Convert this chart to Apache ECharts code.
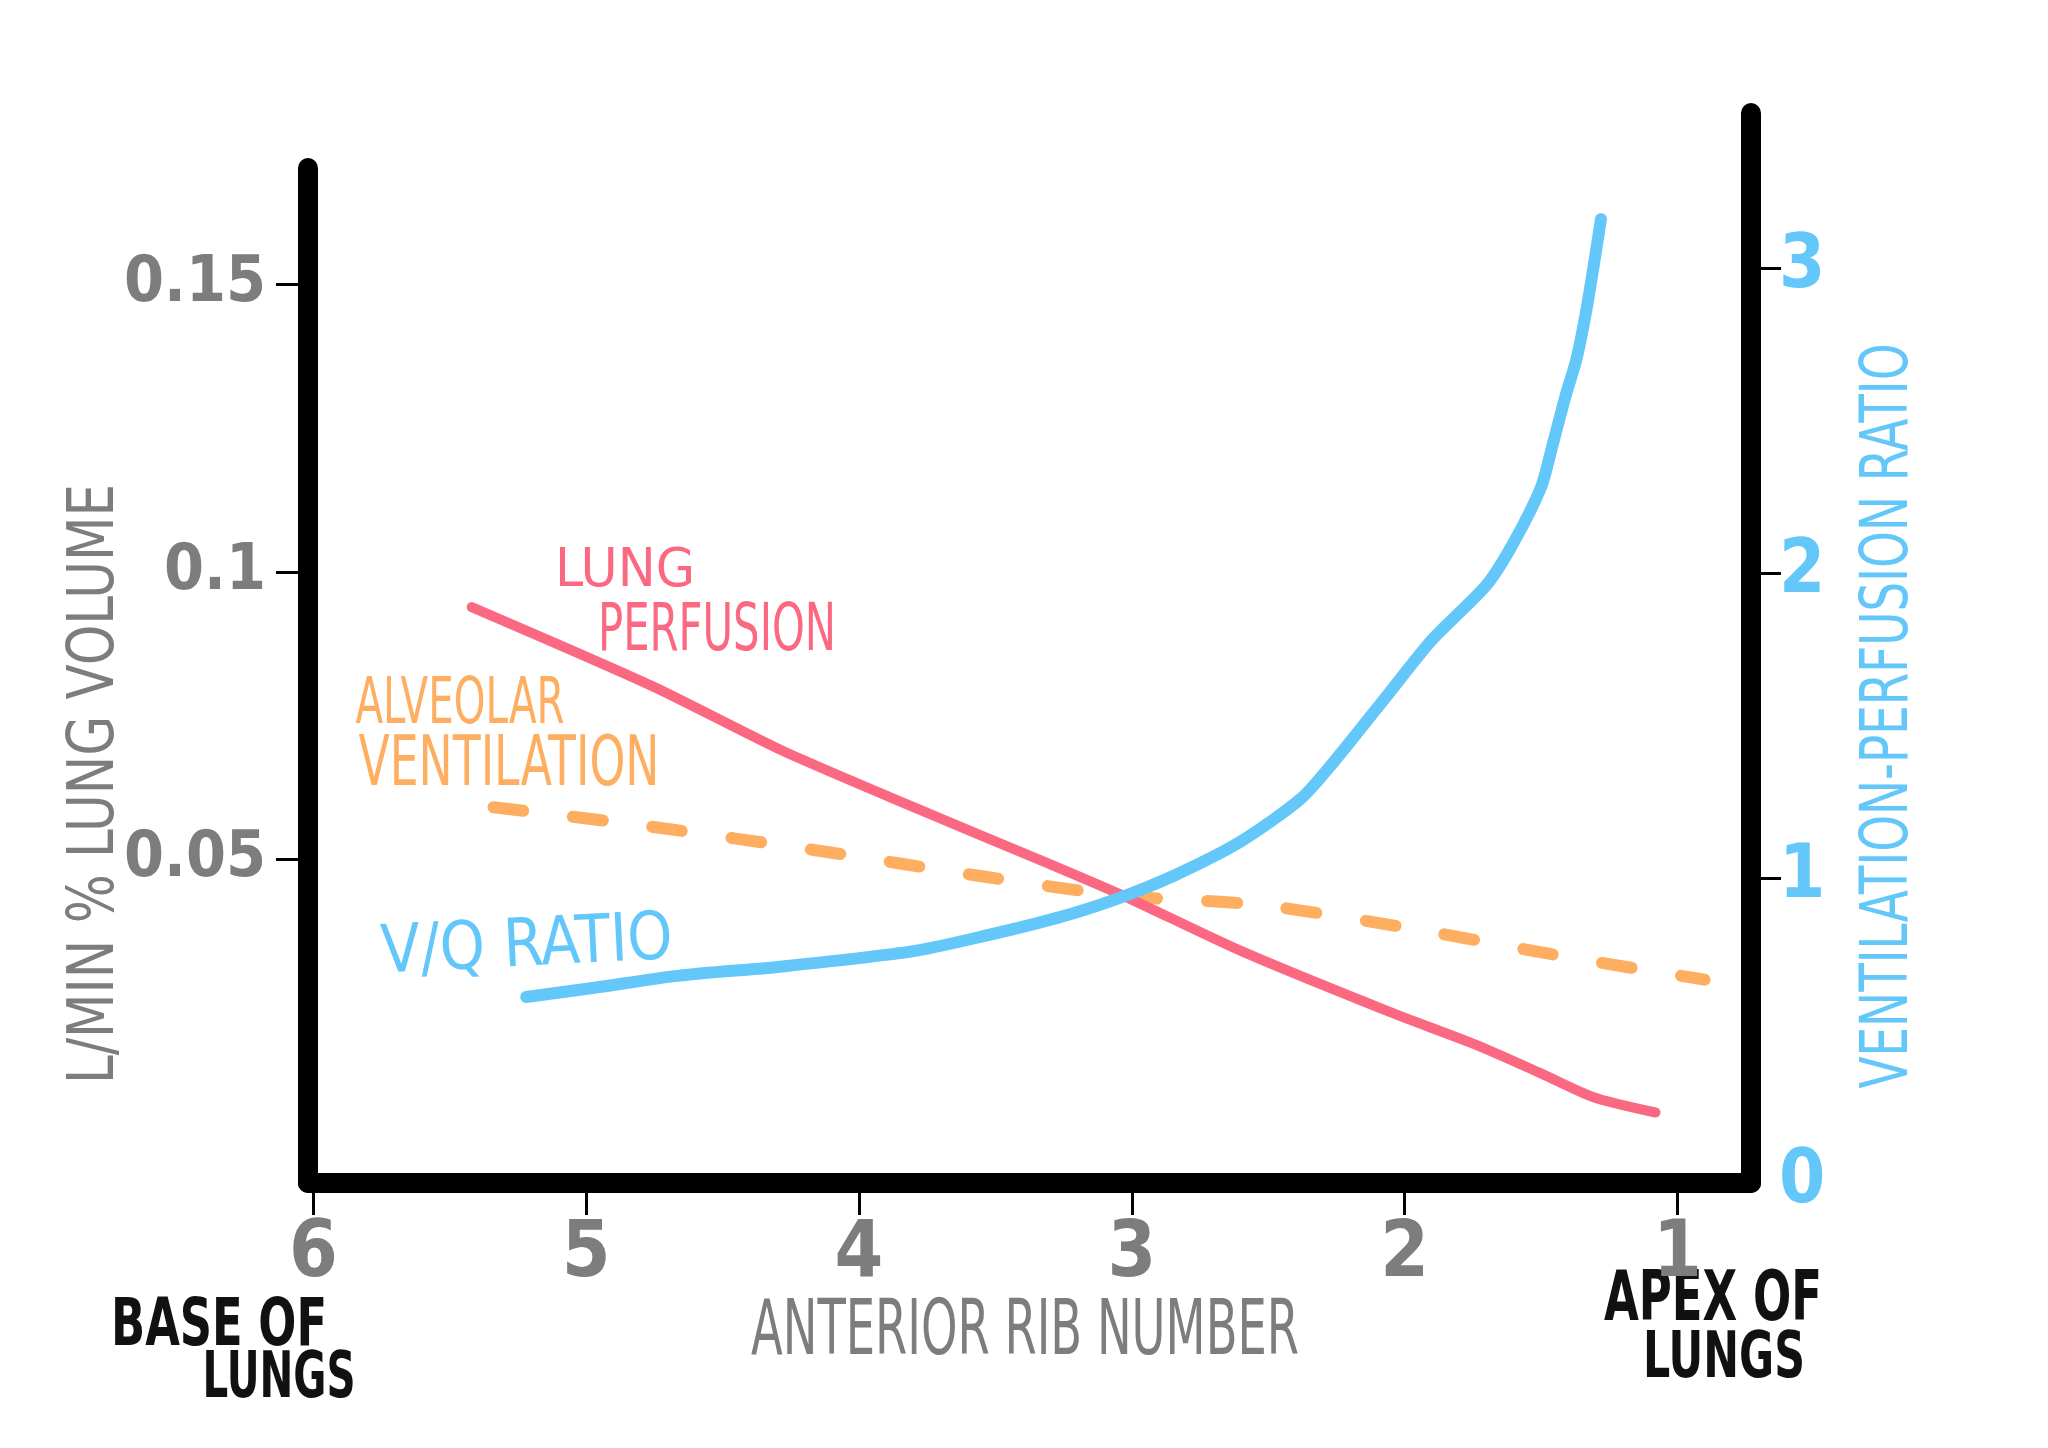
<!DOCTYPE html>
<html><head><meta charset="utf-8">
<script src="https://cdn.jsdelivr.net/npm/echarts/dist/echarts.min.js"></script>
<style>html,body{margin:0;padding:0;background:#fff}#c{width:2048px;height:1448px}</style>
</head><body><div id="c"></div>
<script>
// ---- data ----
const ribTicks = [1, 2, 3, 4, 5, 6];
const flowTicks = [0.05, 0.1, 0.15];
const ratioTicks = [0, 1, 2, 3];

const perfusionRib = [5.42, 4.76, 4.28, 3.80, 3.32, 3.04, 2.60, 2.05, 1.74, 1.50, 1.31, 1.08];
const perfusionVal = [0.0939, 0.0802, 0.0689, 0.0591, 0.0496, 0.0439, 0.0341, 0.0234, 0.0178, 0.0128, 0.0087, 0.0060];

const ventilationRib = [5.34, 4.76, 4.13, 3.58, 3.04, 2.53, 1.95, 1.40, 0.90];
const ventilationVal = [0.0591, 0.0557, 0.0514, 0.0473, 0.0437, 0.0421, 0.0378, 0.0330, 0.0291];

const vqRib = [5.22, 4.97, 4.66, 4.28, 3.80, 3.54, 3.27, 3.06, 2.84, 2.60, 2.38, 2.26, 2.08, 1.90, 1.70, 1.60, 1.50, 1.46, 1.41, 1.37, 1.33, 1.28];
const vqVal = [0.61, 0.64, 0.68, 0.71, 0.76, 0.81, 0.87, 0.93, 1.01, 1.12, 1.26, 1.38, 1.58, 1.78, 1.96, 2.10, 2.28, 2.41, 2.58, 2.70, 2.88, 3.16];

// ---- styling ----
const FONT = "'DejaVu Sans Condensed', 'DejaVu Sans', sans-serif";
const GRAY = '#7d7d7d';
const PINK = '#fb6881';
const ORANGE = '#fdae60';
const BLUE = '#63c7fa';
const zip = (a, b) => a.map((v, i) => [v, b[i]]);

const mctx = document.createElement('canvas').getContext('2d');
function fitText(text, cx, cy, w, h, color, weight, rot) {
  const fs = 40;
  mctx.font = weight + ' ' + fs + 'px ' + FONT;
  const m = mctx.measureText(text);
  const capH = mctx.measureText('H').actualBoundingBoxAscent || fs * 0.73;
  return {
    type: 'text', x: cx, y: cy, rotation: rot || 0,
    scaleX: w / m.width, scaleY: h / capH,
    style: {
      text: text, x: 0, y: 0, fill: color,
      font: weight + ' ' + fs + 'px ' + FONT,
      textAlign: 'center', textVerticalAlign: 'middle'
    }
  };
}

const chart = echarts.init(document.getElementById('c'), null, { renderer: 'canvas' });
const axisLineStyle = { color: '#000', width: 20, cap: 'round' };
const tickStyle = { color: '#000', width: 3 };

chart.setOption({
  animation: false,
  backgroundColor: '#fff',
  grid: [
    { left: 308, right: 297, top: 168, bottom: 265 },
    { left: 308, right: 297, top: 113, bottom: 265 }
  ],
  xAxis: [
    {
      gridIndex: 0, type: 'value', inverse: true, min: 0.73, max: 6.02,
      axisLine: { show: true, onZero: false, lineStyle: axisLineStyle },
      axisTick: { show: true, customValues: ribTicks, length: 32, lineStyle: tickStyle },
      axisLabel: { customValues: ribTicks, color: GRAY, fontSize: 78, fontWeight: 'bold', fontFamily: FONT, margin: 34 },
      splitLine: { show: false }
    },
    { gridIndex: 1, type: 'value', inverse: true, min: 0.73, max: 6.02, show: false, splitLine: { show: false } }
  ],
  yAxis: [
    {
      gridIndex: 0, type: 'value', position: 'left', min: -0.00626, max: 0.17026,
      axisLine: { show: true, onZero: false, lineStyle: axisLineStyle },
      axisTick: { show: true, customValues: flowTicks, length: 32, lineStyle: tickStyle },
      axisLabel: { customValues: flowTicks, color: GRAY, fontSize: 64, fontWeight: 'bold', fontFamily: FONT, margin: 42 },
      splitLine: { show: false }
    },
    {
      gridIndex: 1, type: 'value', position: 'right', min: 0, max: 3.508,
      axisLine: { show: true, onZero: false, lineStyle: axisLineStyle },
      axisTick: { show: true, customValues: ratioTicks.filter(v => v > 0), length: 30, lineStyle: tickStyle },
      axisLabel: { customValues: ratioTicks, color: BLUE, fontSize: 74, fontWeight: 'bold', fontFamily: FONT, margin: 28 },
      splitLine: { show: false }
    }
  ],
  series: [
    {
      name: 'Alveolar ventilation', type: 'line', xAxisIndex: 0, yAxisIndex: 0,
      data: zip(ventilationRib, ventilationVal), showSymbol: false, smooth: 0.25,
      lineStyle: { color: ORANGE, width: 12, type: [30, 50], cap: 'round' }
    },
    {
      name: 'Lung perfusion', type: 'line', xAxisIndex: 0, yAxisIndex: 0,
      data: zip(perfusionRib, perfusionVal), showSymbol: false, smooth: 0.25,
      lineStyle: { color: PINK, width: 10, cap: 'round' }
    },
    {
      name: 'V/Q ratio', type: 'line', xAxisIndex: 1, yAxisIndex: 1,
      data: zip(vqRib, vqVal), showSymbol: false, smooth: 0.25,
      lineStyle: { color: BLUE, width: 12, cap: 'round' }
    }
  ],
  graphic: [
    fitText('L/MIN % LUNG VOLUME', 96, 784, 600, 48, GRAY, 'normal', Math.PI / 2),
    fitText('VENTILATION-PERFUSION RATIO', 1890, 716, 745, 50, BLUE, 'normal', Math.PI / 2),
    fitText('ANTERIOR RIB NUMBER', 1025, 1334, 548, 58, GRAY, 'normal', 0),
    fitText('LUNG', 625, 572, 140, 40, PINK, 'normal', 0),
    fitText('PERFUSION', 717, 633, 238, 50, PINK, 'normal', 0),
    fitText('ALVEOLAR', 460, 706, 209, 48, ORANGE, 'normal', 0),
    fitText('VENTILATION', 509, 767, 301, 52, ORANGE, 'normal', 0),
    fitText('V/Q RATIO', 527, 948, 292, 50, BLUE, 'normal', 0.05),
    fitText('BASE OF', 219, 1328, 216, 50, '#111', 'bold', 0),
    fitText('LUNGS', 279, 1380, 153, 48, '#111', 'bold', 0),
    fitText('APEX OF', 1713, 1302, 218, 52, '#111', 'bold', 0),
    fitText('LUNGS', 1724, 1360, 162, 48, '#111', 'bold', 0)
  ]
});
</script>
</body></html>
